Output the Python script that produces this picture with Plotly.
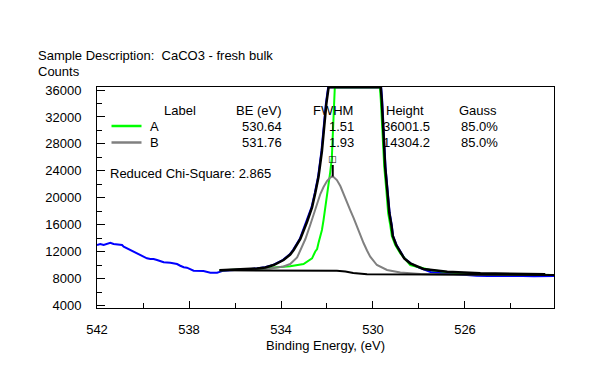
import plotly.graph_objects as go

# ---------------- data ----------------
blue_ev = [542.00, 541.86, 541.71, 541.57, 541.42, 541.28, 541.13, 540.91, 540.84, 540.70,
           540.55, 540.41, 540.26, 540.12, 539.97, 539.83, 539.68, 539.54, 539.39, 539.25,
           539.10, 538.81, 538.67, 538.52, 538.38, 538.23, 538.09, 537.94, 537.80, 537.37,
           537.22, 537.07, 536.78, 536.64, 536.50, 536.20, 535.90, 535.60, 535.30, 535.00,
           534.70, 534.34, 533.91, 533.62, 533.47, 533.18, 532.89, 532.67, 532.53, 532.39,
           532.24, 532.14, 532.05, 531.95, 530.80, 529.645, 529.60, 529.535, 529.455, 529.365,
           529.275, 529.185, 529.125, 528.975, 528.755, 528.625, 528.36, 528.10, 527.80, 527.50,
           527.20, 526.80, 526.40, 526.00, 525.50, 525.00, 524.50, 524.00, 523.50, 523.00,
           522.50, 522.12]
blue_counts = [13000, 13150, 13000, 13150, 13340, 13150, 13050, 13000, 12750, 12510,
               12260, 12010, 11770, 11520, 11270, 11030, 10930, 10930, 10780, 10670,
               10440, 10380, 10290, 10180, 9930, 9700, 9640, 9400, 9190, 9150,
               9040, 8890, 8890, 9040, 9200, 9260, 9300, 9370, 9430, 9540,
               9700, 10060, 10800, 11620, 12280, 13920, 16430, 18620, 20730, 23090,
               26960, 30960, 33920, 36400, 36400, 36400, 34500, 29470, 24570, 21160,
               17750, 15970, 14340, 13000, 11810, 11000, 10290, 9800, 9400, 9000,
               8880, 8760, 8640, 8520, 8450, 8400, 8430, 8380, 8410, 8370,
               8400, 8420]

env_ev = [536.67, 535.77, 535.04, 534.68, 534.32, 533.89, 533.60, 533.45, 533.16, 532.87,
          532.65, 532.51, 532.37, 532.22, 532.12, 532.03, 531.93, 530.80, 529.66, 529.62,
          529.55, 529.47, 529.38, 529.29, 529.20, 529.14, 528.99, 528.77, 528.64, 528.38,
          527.81, 526.77, 525.33, 522.51]
env_counts = [9250, 9370, 9517, 9665, 10036, 10777, 11593, 12260, 13892, 16413,
              18593, 20713, 23086, 26942, 30946, 33912, 36400, 36400, 36400, 34505,
              29463, 24569, 21158, 17748, 15968, 14337, 13002, 11815, 11000, 10288,
              9443, 9042, 8805, 8657]

bg_ev = [536.67, 533.16, 531.57, 531.20, 530.86, 530.26, 528.38, 522.12]
bg_counts = [9250, 9220, 9190, 9070, 8850, 8657, 8630, 8553]

a_ev = [536.67, 535.19, 534.17, 533.60, 533.02, 532.80, 532.65, 532.51, 532.43, 532.37,
        532.29, 532.22, 532.15, 532.07, 532.00, 531.92, 531.86, 531.79, 531.75, 531.70,
        531.66, 530.70, 529.70, 529.66, 529.60, 529.51, 529.42, 529.34, 529.25, 529.18,
        529.03, 528.81, 528.60, 528.38, 527.51, 526.35, 525.33, 522.12]
a_counts = [9250, 9398, 9695, 9843, 10184, 10629, 11029, 12038, 12409, 13298,
            14188, 15226, 16709, 18489, 20269, 22196, 23828, 25904, 28573, 32281,
            36400, 36400, 36400, 34505, 29463, 24569, 21158, 17747, 15968, 14336,
            13002, 11771, 10926, 10036, 9294, 8805, 8701, 8553]

b_ev = [536.67, 535.19, 534.47, 533.89, 533.60, 533.30, 533.16, 532.94, 532.73, 532.58,
        532.43, 532.29, 532.15, 532.00, 531.86, 531.78, 531.71, 531.57, 531.42, 531.28,
        531.13, 530.99, 530.84, 530.70, 530.55, 530.41, 530.26, 530.12, 529.83, 529.39,
        528.81, 527.94, 526.64, 522.12]
b_counts = [9250, 9368, 9517, 9813, 10184, 11148, 12260, 13892, 15968, 17599,
            19230, 20565, 21603, 22493, 23012, 23160, 23086, 22641, 21752, 20669,
            19527, 18192, 17006, 15716, 14485, 13298, 12186, 11267, 10036, 9294,
            8924, 8701, 8627, 8553]

comp_labels = ["A", "B"]
comp_be = ["530.64", "531.76"]
comp_fwhm = ["1.51", "1.93"]
comp_height = ["36001.5", "14304.2"]
comp_gauss = ["85.0%", "85.0%"]
comp_colors = ["#00ff00", "#808080"]
chi_text = "Reduced Chi-Square: 2.865"
title_text = "Sample Description:\u00a0 CaCO3 - fresh bulk"

x_range = [542, 522.13]
y_range = [3659, 36445]

# ---------------- layout helpers (pixel -> paper) ----------------
W, H = 611, 382
PL, PR, PT, PB = 97, 554, 87, 308


def px(x):
    return (x - PL) / (PR - PL)


def py(y):
    return (PB - y) / (PB - PT)


FONT = "Liberation Sans, Arial, sans-serif"

fig = go.Figure()
fig.add_trace(go.Scatter(x=blue_ev, y=blue_counts, mode="lines",
                         line=dict(color="#0000ff", width=2), showlegend=False))
fig.add_trace(go.Scatter(x=a_ev, y=a_counts, mode="lines",
                         line=dict(color=comp_colors[0], width=2), showlegend=False))
fig.add_trace(go.Scatter(x=b_ev, y=b_counts, mode="lines",
                         line=dict(color=comp_colors[1], width=2), showlegend=False))
fig.add_trace(go.Scatter(x=bg_ev, y=bg_counts, mode="lines",
                         line=dict(color="black", width=2), showlegend=False))
fig.add_trace(go.Scatter(x=env_ev, y=env_counts, mode="lines",
                         line=dict(color="black", width=2.5), showlegend=False))

annotations = []


def txt(text, x, y, xanchor="left", size=13):
    annotations.append(dict(text=text, x=px(x), y=py(y), xref="paper", yref="paper",
                            xanchor=xanchor, yanchor="middle", showarrow=False,
                            font=dict(family=FONT, size=size, color="black")))


txt(title_text, 36, 55)
txt("Counts", 36, 71)
txt("Label", 179.5, 111, "center")
txt("BE (eV)", 284, 111, "right")
txt("FWHM", 333, 111, "center")
txt("Height", 384, 111, "left")
txt("Gauss", 456.5, 111, "left")
row_y = [126, 142.5]
shapes = []
for i in range(2):
    txt(comp_labels[i], 154.5, row_y[i], "center")
    txt(comp_be[i], 284, row_y[i], "right")
    txt(comp_fwhm[i], 356, row_y[i], "right")
    txt(comp_height[i], 381, row_y[i], "left")
    txt(comp_gauss[i], 500, row_y[i], "right")
    shapes.append(dict(type="line", xref="paper", yref="paper",
                       x0=px(111.5), x1=px(141.5), y0=py(row_y[i]), y1=py(row_y[i]),
                       line=dict(color=comp_colors[i], width=2.5)))
txt(chi_text, 107.5, 173.5)
txt("Binding Energy, (eV)", (PL + PR) / 2, 345, "center")

# component label marker above peak B
annotations.append(dict(text="\u25eb", x=531.75, y=23160, xref="x", yref="y",
                        showarrow=True, arrowhead=0, arrowwidth=2, arrowcolor="black",
                        ax=0, ay=-18, font=dict(family="DejaVu Sans", size=9, color="black")))

fig.update_layout(
    width=W, height=H,
    margin=dict(l=PL, r=W - PR, t=PT, b=H - PB, pad=0),
    paper_bgcolor="white", plot_bgcolor="white",
    font=dict(family=FONT, size=13, color="black"),
    showlegend=False,
    annotations=annotations,
    shapes=shapes,
)
fig.update_xaxes(range=x_range, autorange=False, showgrid=False, zeroline=False,
                 showline=True, mirror=True, linecolor="black", linewidth=1,
                 ticks="inside", ticklen=7, tickwidth=1, tickcolor="black",
                 tickmode="linear", tick0=542, dtick=4, ticklabelstandoff=9,
                 minor=dict(ticks="inside", ticklen=5, tickcolor="black", dtick=2, tick0=542,
                            showgrid=False),
                 tickfont=dict(family=FONT, size=13, color="black"))
fig.update_yaxes(range=y_range, autorange=False, showgrid=False, zeroline=False,
                 showline=True, mirror=True, linecolor="black", linewidth=1,
                 ticks="inside", ticklen=8, tickwidth=1, tickcolor="black",
                 tickmode="linear", tick0=4000, dtick=4000, tickformat="d",
                 ticklabelstandoff=12,
                 minor=dict(ticks="inside", ticklen=5, tickcolor="black", dtick=2000,
                            tick0=4000, showgrid=False),
                 tickfont=dict(family=FONT, size=13, color="black"))

fig.write_html("out.html", config={"displayModeBar": False},
               post_script="document.body.style.margin='0';document.body.style.padding='0';")
